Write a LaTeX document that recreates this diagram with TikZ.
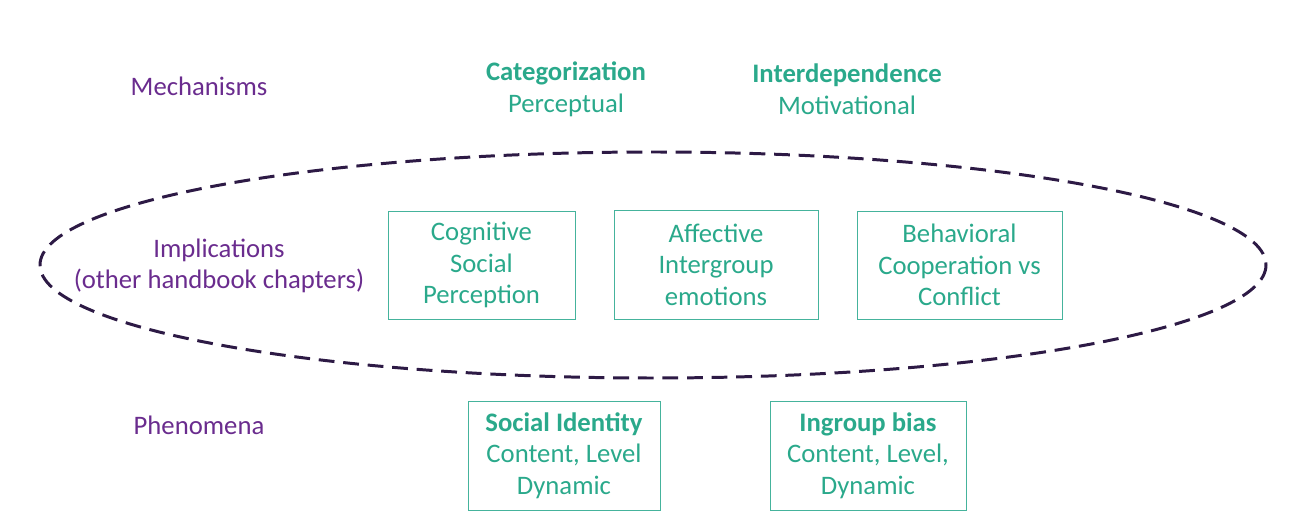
\documentclass[tikz,border=0pt]{standalone}
\usepackage{fontspec}
\setmainfont{Carlito}
\definecolor{teal1}{HTML}{2AA98B}
\definecolor{tealbox}{HTML}{45B39C}
\definecolor{purp}{HTML}{6A2C8E}
\definecolor{ringc}{HTML}{2D1A45}
\tikzset{
  lbl/.style={text=purp, align=center, font=\fontsize{15.2}{18}\selectfont},
  head/.style={text=teal1, align=center, font=\fontsize{15.2}{18}\selectfont},
  box/.style={draw=tealbox, line width=0.5pt, text=teal1, align=center,
    font=\fontsize{15.2}{18}\selectfont, inner sep=0pt},
}
\begin{document}
\begin{tikzpicture}[x=0.02cm, y=-0.02cm]
    \useasboundingbox (0, 0) rectangle (1299, 520);

    % dashed ring round the implications
    \draw[ringc, line width=1.7pt, dash pattern=on 9pt off 5pt] (653, 265) ellipse [x radius=613, y radius=113];

    % row labels
    \node[lbl] (mech) at (199, 86) {Mechanisms};
    \node[lbl] (impl) at (219, 266) {Implications\\(other handbook chapters)};
    \node[lbl] (phen) at (199, 425) {Phenomena};

    % mechanisms
    \node[head] (categ) at (566, 89) {\textbf{Categorization}\\Perceptual};
    \node[head] (inter) at (847, 89) {\textbf{Interdependence}\\Motivational};

    % implications
    \node[box, minimum width=3.74cm, minimum height=2.16cm] (cogn) at (481.5, 265) {Cognitive\\Social\\Perception};
    \node[box, minimum width=4.08cm, minimum height=2.18cm] (affe) at (716, 264.5) {Affective\\Intergroup\\emotions};
    \node[box, minimum width=4.10cm, minimum height=2.16cm] (beha) at (959.5, 265) {Behavioral\\Cooperation vs\\Conflict};

    % phenomena
    \node[box, minimum width=3.84cm, minimum height=2.18cm] (ident) at (564, 455.5) {\textbf{Social Identity}\\Content, Level\\Dynamic};
    \node[box, minimum width=3.92cm, minimum height=2.18cm] (bias) at (868, 455.5) {\textbf{Ingroup bias}\\Content, Level,\\Dynamic};
\end{tikzpicture}
\end{document}
